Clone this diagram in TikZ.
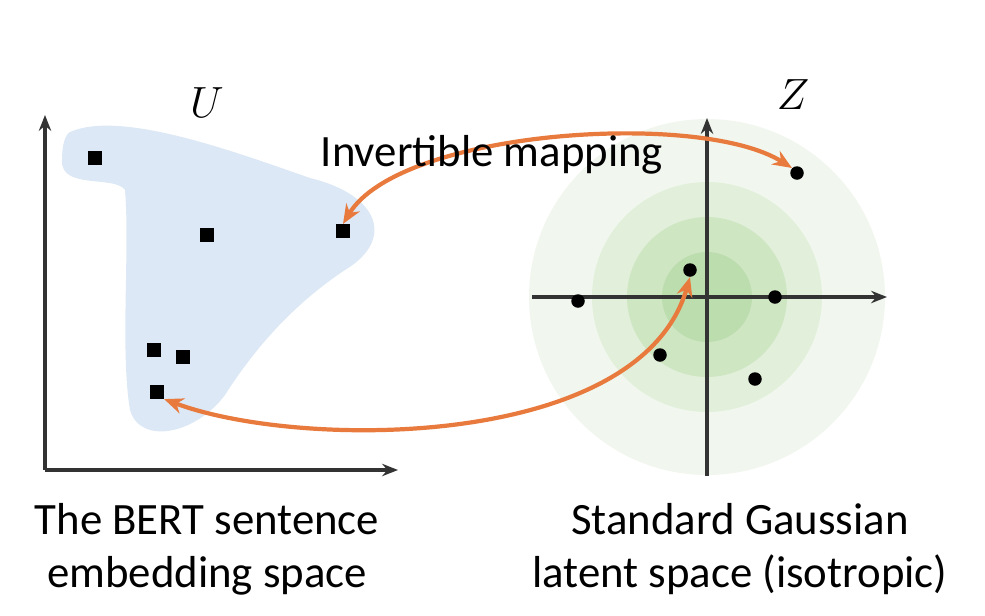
\documentclass[tikz,border=0pt]{standalone}
\usepackage{fontspec}
\setmainfont{Carlito}
\usetikzlibrary{arrows.meta}
\definecolor{blob}{HTML}{DCE8F5}
\definecolor{org}{HTML}{E97A3E}
\definecolor{g1}{HTML}{F1F7EE}
\definecolor{g2}{HTML}{E2F0DB}
\definecolor{g3}{HTML}{CFE6C3}
\definecolor{g4}{HTML}{BCDDAE}
\begin{document}
\begin{tikzpicture}[x=0.02cm,y=-0.02cm,
  ax/.style={line width=2.2pt,draw=black!80,-{Stealth[length=9pt,width=7pt]}},
  sq/.style={fill=black,inner sep=0pt,minimum size=0.27cm},
  dot/.style={circle,fill=black,inner sep=0pt,minimum size=0.27cm},
  map/.style={line width=2.4pt,draw=org,{Stealth[length=11pt,width=9pt]}-{Stealth[length=11pt,width=9pt]}},
  lbl/.style={font=\fontsize{25.5}{30}\selectfont,align=center}]
\useasboundingbox (0,0) rectangle (985,616);
% blob
\fill[blob] (70,132) .. controls (120,110) and (230,150) .. (310,178)
  .. controls (380,195) and (395,240) .. (345,270)
  .. controls (300,300) and (260,340) .. (225,395)
  .. controls (195,435) and (140,445) .. (130,410)
  .. controls (120,350) and (130,250) .. (125,190)
  .. controls (115,175) and (60,190) .. (62,160)
  .. controls (62,145) and (65,135) .. (70,132) -- cycle;
% left axes
\coordinate (o1) at (45,470);
\coordinate (ly) at (45,115);
\coordinate (lx) at (398,470);
\draw[ax] (o1) -- (ly);
\draw[ax] (o1) -- (lx);
% gaussian
\fill[g1] (707,297) circle (178);
\fill[g2] (707,297) circle (115);
\fill[g3] (707,297) circle (80);
\fill[g4] (707,297) circle (45);
\coordinate (rl) at (532,297);
\coordinate (rr) at (887,297);
\coordinate (rb) at (707,476);
\coordinate (rt) at (707,118);
\draw[ax] (rl) -- (rr);
\draw[ax] (rb) -- (rt);
% squares
\node[sq] (s1) at (95,158) {};
\node[sq] (s2) at (207,235) {};
\node[sq] (s3) at (343,231) {};
\node[sq] (s4) at (154,350) {};
\node[sq] (s5) at (183,357) {};
\node[sq] (s6) at (157,392) {};
% dots
\node[dot] (d1) at (797,173) {};
\node[dot] (d2) at (690,270) {};
\node[dot] (d3) at (578,301) {};
\node[dot] (d4) at (775,297) {};
\node[dot] (d5) at (660,355) {};
\node[dot] (d6) at (755,379) {};
% arrows
\draw[map] (s3.north) .. controls (400,130) and (700,110) .. (d1.north west);
\draw[map] (s6.south east) .. controls (300,450) and (640,450) .. (d2.south);
% labels
\node[font=\fontsize{25}{28}\selectfont] (U) at (207,103) {$U$};
\node[font=\fontsize{25}{28}\selectfont] (Z) at (793,95) {$Z$};
\node[lbl] (im) at (492,155) {Invertible mapping};
\node[lbl] (t1) at (207,549) {The BERT sentence\\[0pt]embedding space};
\node[lbl] (t2) at (740,549) {Standard Gaussian\\[0pt]latent space (isotropic)};
\end{tikzpicture}
\end{document}
